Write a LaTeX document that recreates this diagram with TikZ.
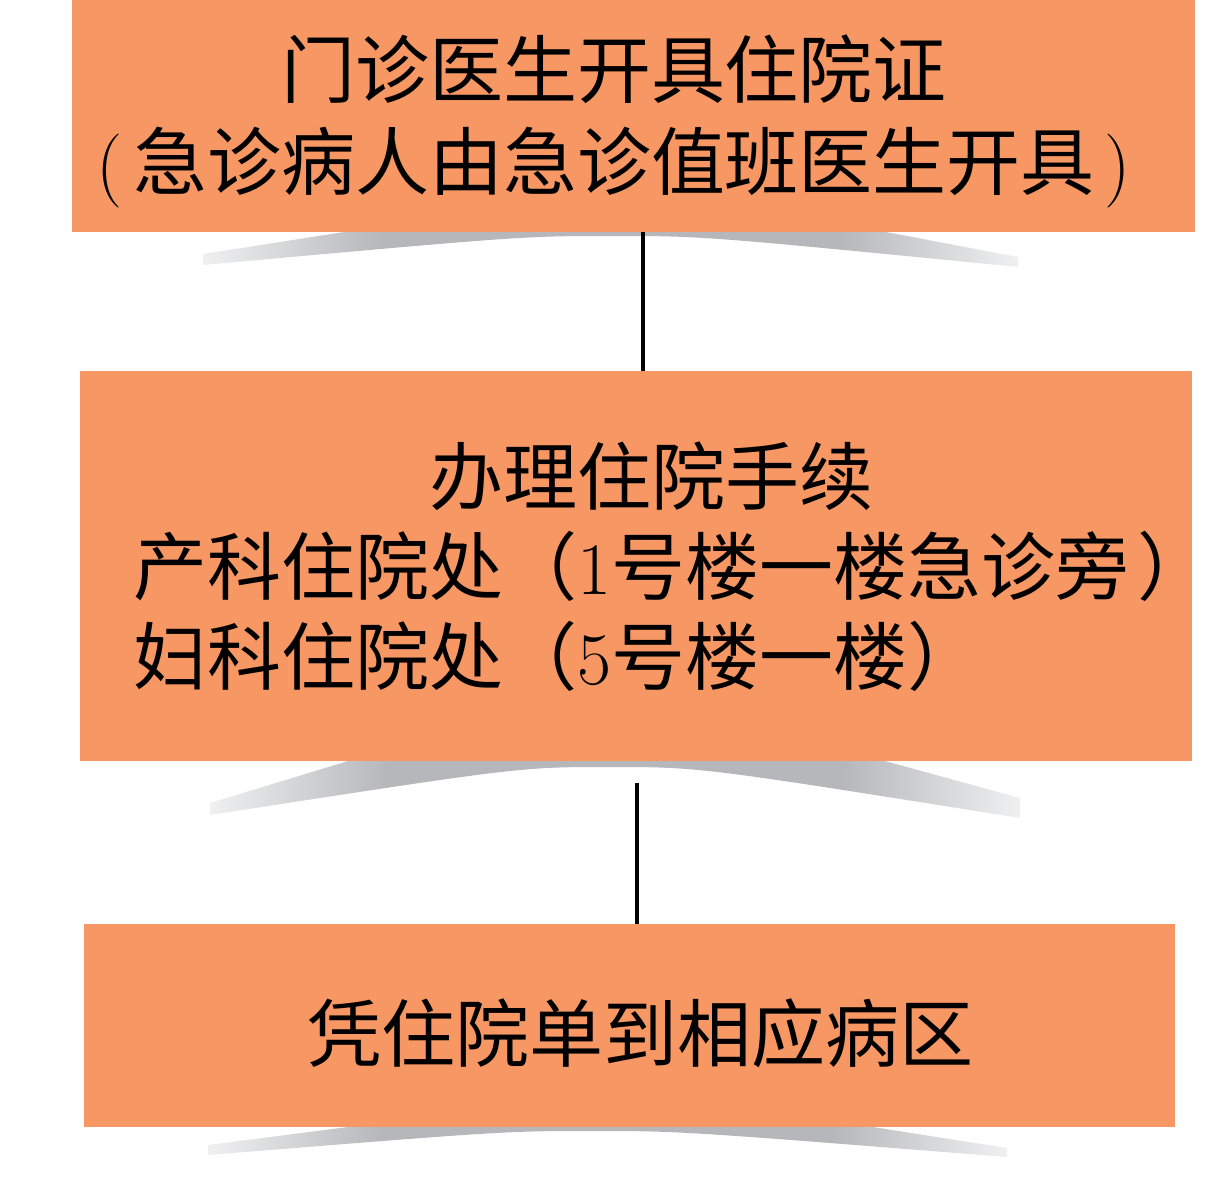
\documentclass[tikz,border=0pt]{standalone}
\usepackage{fontspec}
\newfontfamily\cjk{Noto Sans CJK SC}
\definecolor{boxorange}{RGB}{247,151,99}
\definecolor{shgray}{RGB}{181,183,187}
\definecolor{shfade}{RGB}{240,240,241}
\pgfdeclarehorizontalshading{shadowfade}{100bp}{color(0bp)=(shfade); color(25bp)=(shfade); color(36bp)=(shgray); color(64bp)=(shgray); color(75bp)=(shfade); color(100bp)=(shfade)}

\begin{document}
\begin{tikzpicture}[x=1pt,y=-1pt,
  flowbox/.style={rectangle, fill=boxorange, inner sep=0pt},
  flowtext/.style={inner sep=0pt, font=\cjk\fontsize{74}{92}\selectfont},
  link/.style={line width=3.5pt, black}]

\useasboundingbox (0,0) rectangle (1224,1176);

% Draw the shadows below the boxes
\shade[shading=shadowfade] (203,254) -- (344,232) -- (886,232) -- (1018,257) -- (1018,267)
  .. controls (703,236) .. (613,236) .. controls (523,236) .. (203,265) -- cycle;
\shade[shading=shadowfade] (210,803) -- (348,761) -- (885,761) -- (1020,798) -- (1020,818)
  .. controls (700,767) .. (609,767) .. controls (520,767) .. (210,815) -- cycle;
\shade[shading=shadowfade] (208,1145) -- (348,1127) -- (873,1127) -- (1007,1148) -- (1007,1157)
  .. controls (680,1131) .. (592,1131) .. controls (505,1131) .. (208,1155) -- cycle;

% Draw the boxes
\node[flowbox, minimum width=1123pt, minimum height=232pt] (box1) at (633.5,116) {};
\node[flowbox, minimum width=1112pt, minimum height=390pt] (box2) at (636,566) {};
\node[flowbox, minimum width=1091pt, minimum height=203pt] (box3) at (629.5,1025.5) {};

% Add the texts
\node[flowtext, align=center, anchor=base] (text1) at (614,189)
  {门诊医生开具住院证\\{\rmfamily(}\hspace{10pt}急诊病人由急诊值班医生开具\hspace{10pt}{\rmfamily)}};
\node[flowtext, align=left, anchor=base west, font=\cjk\fontsize{74}{90}\selectfont] (text2) at (133,684)
  {\hspace*{4em}办理住院手续\\产科住院处（{\rmfamily 1}号楼一楼急诊旁\hspace{8pt}）\\妇科住院处（{\rmfamily 5}号楼一楼）};
\node[flowtext, anchor=base] (text3) at (640,1061) {凭住院单到相应病区};

% Draw the connecting lines
\coordinate (drop1) at (643,0);
\draw[link] (box1.south -| drop1) -- (box2.north -| drop1);
\coordinate (drop2) at (637,783);
\draw[link] (drop2) -- (box3.north -| drop2);

\end{tikzpicture}
\end{document}
